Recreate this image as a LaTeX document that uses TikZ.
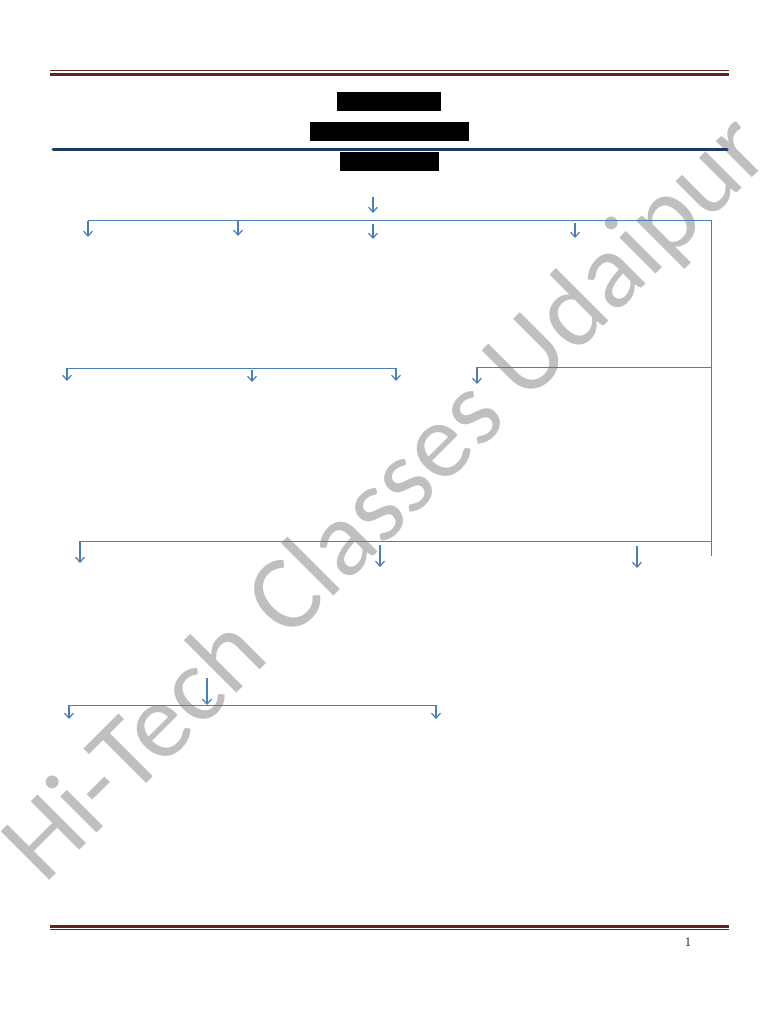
\documentclass[tikz,border=0pt]{standalone}
\usepackage{fontspec}
\newfontfamily\markfont{Carlito}
\usetikzlibrary{arrows.meta}
\definecolor{rulered}{HTML}{632423}
\definecolor{rulenavy}{HTML}{1F3A60}
\definecolor{linkblue}{HTML}{4A7EBB}
\tikzset{
    link/.style={linkblue,line width=1pt},
    drop/.style={linkblue,line width=1.2pt,-{Straight Barb[length=5pt,width=9pt]}},
    redact/.style={fill=black,inner sep=0pt},
}
\begin{document}
\begin{tikzpicture}[x=1pt,y=-1pt]
    \useasboundingbox (0,0) rectangle (768,1024);
    % watermark
    \node[rotate=45,anchor=base west,inner sep=0pt,black!25,font=\markfont\fontsize{107}{107}\selectfont] (mark) at (44,886) {Hi-Tech Classes Udaipur};
    % header
    \draw[rulered,line width=1pt] (50,71)--(729,71);
    \draw[rulered,line width=3pt] (50,75)--(729,75);
    \node[redact,minimum width=104pt,minimum height=19pt] (title) at (389,101.5) {};
    \node[redact,minimum width=159pt,minimum height=19pt] (subtitle) at (389.5,131.5) {};
    \draw[rulenavy,line width=3pt,line cap=round] (53,150)--(727,150);
    \node[redact,minimum width=99pt,minimum height=19pt] (topic) at (389.5,162) {};
    % first level
    \coordinate (root) at (373,197);
    \coordinate (rootend) at (373,213);
    \coordinate (busA) at (88,221);
    \coordinate (corner) at (711,221);
    \coordinate (spine) at (711,556);
    \draw[drop] (root)--(rootend);
    \draw[link] (busA)--(corner)--(spine);
    \draw[drop] (busA)--(88,237);
    \draw[drop] (238,221)--(238,236);
    \draw[drop] (373,224)--(373,239);
    \draw[drop] (575,223)--(575,238);
    % second level
    \coordinate (busB) at (67,368);
    \coordinate (busBend) at (396,368);
    \draw[link] (busB)--(busBend);
    \draw[drop] (busB)--(67,381);
    \draw[drop] (252,370)--(252,382);
    \draw[drop] (busBend)--(396,381);
    \coordinate (branchB) at (711,367);
    \coordinate (branchBend) at (477,367);
    \draw[link] (branchB)--(branchBend);
    \draw[drop] (branchBend)--(477,384);
    % third level
    \coordinate (branchC) at (711,541);
    \coordinate (busC) at (80,541);
    \draw[link] (branchC)--(busC);
    \draw[drop] (busC)--(80,563);
    \draw[drop] (380,545)--(380,567);
    \draw[drop] (637,546)--(637,568);
    % fourth level
    \coordinate (busD) at (69,705);
    \coordinate (busDend) at (436,705);
    \draw[drop] (207,678)--(207,705);
    \draw[link] (busD)--(busDend);
    \draw[drop] (busD)--(69,719);
    \draw[drop] (busDend)--(436,719);
    % footer
    \draw[rulered,line width=3pt] (50,926)--(729,926);
    \draw[rulered,line width=1pt] (50,929.5)--(729,929.5);
    \node[font=\fontsize{13}{13}\selectfont] (page) at (688,942) {1};
\end{tikzpicture}
\end{document}
